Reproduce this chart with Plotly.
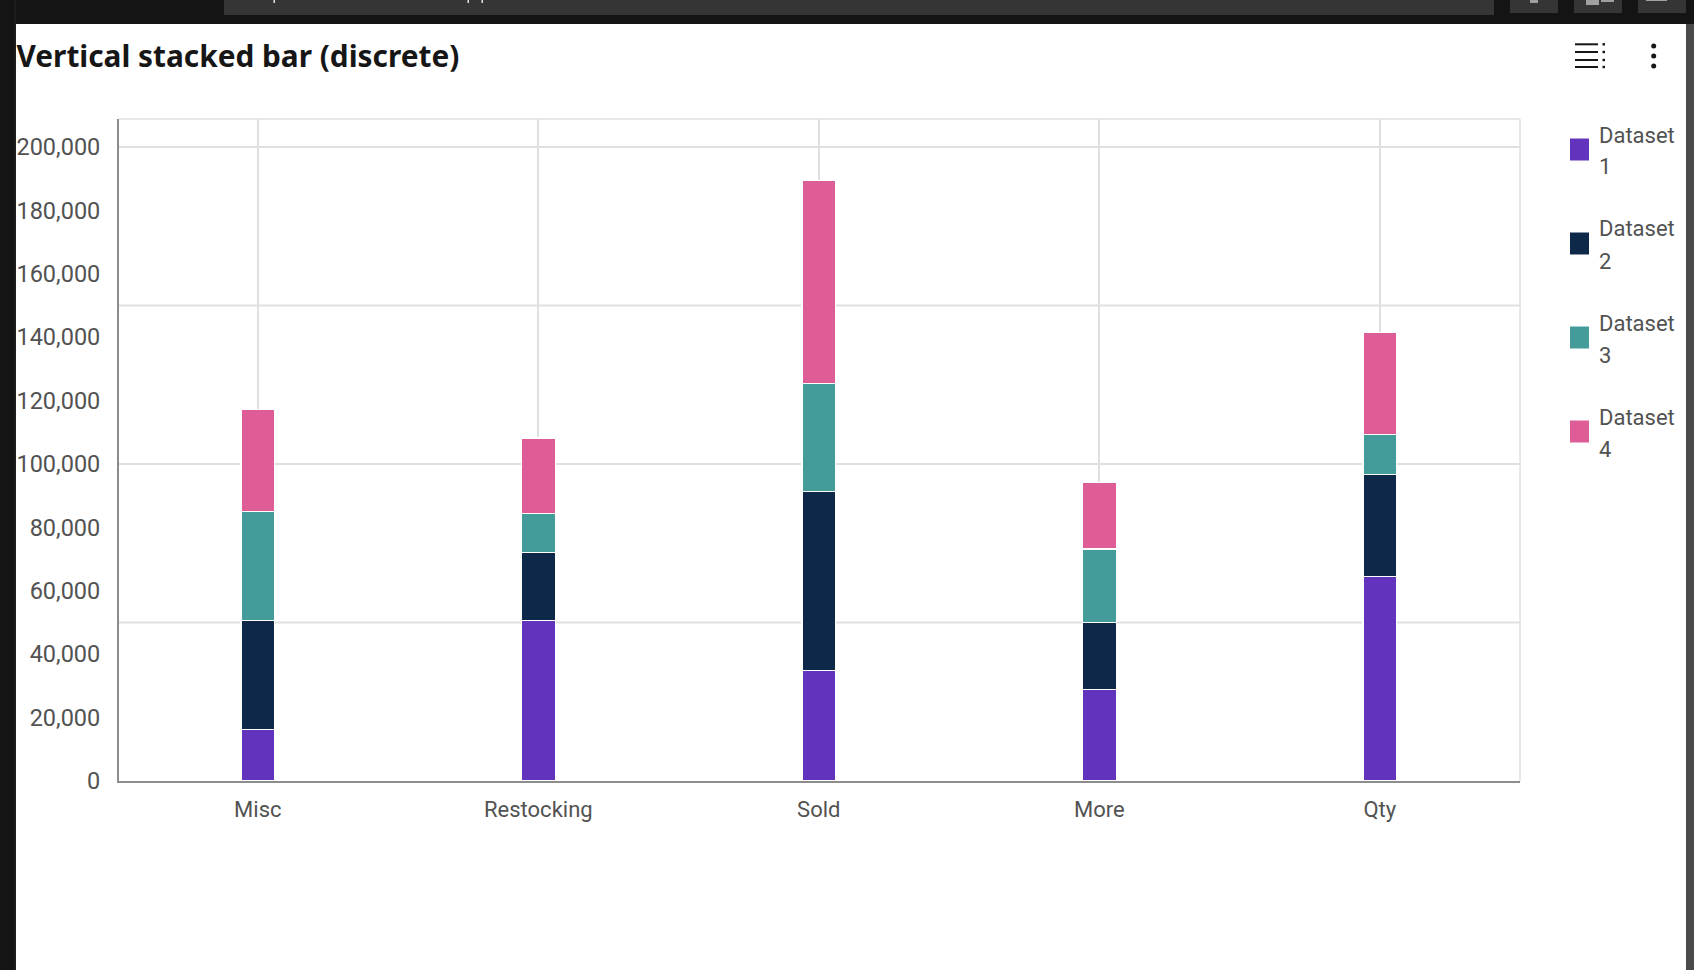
import plotly.graph_objects as go

W, H = 1694, 970
# plot area edges in page pixels
L, R, T, B = 119, 1520, 119, 781

categories = ["Misc", "Restocking", "Sold", "More", "Qty"]
dataset_names = ["Dataset 1", "Dataset 2", "Dataset 3", "Dataset 4"]
dataset_1 = [16300, 50700, 34900, 28800, 64500]
dataset_2 = [34400, 21300, 56300, 21100, 32300]
dataset_3 = [34400, 12400, 34200, 23300, 12500]
dataset_4 = [32000, 23800, 64000, 20900, 32100]
colors = ["#6233BC", "#0E2849", "#449C9A", "#DF5D96"]
y_ticks = [0, 20000, 40000, 60000, 80000, 100000, 120000, 140000, 160000, 180000, 200000]
grid_lines = [50000, 100000, 150000, 200000]
y_max = 208800


def px(x):
    return (x - L) / (R - L)


def py(y):
    return (B - y) / (B - T)


def rect(x0, y0, x1, y1, color, kind="rect"):
    return dict(type=kind, xref="paper", yref="paper", x0=px(x0), x1=px(x1),
                y0=py(y1), y1=py(y0), fillcolor=color, line_width=0, layer="above")


fig = go.Figure()
series = [dataset_1, dataset_2, dataset_3, dataset_4]
for name, values, color in zip(dataset_names, series, colors):
    fig.add_trace(go.Bar(x=categories, y=values, name=name, marker_color=color,
                         marker_line_color="white", marker_line_width=1.2))

shapes = []

# horizontal grid is on a different step than the labels
for g in grid_lines:
    shapes.append(dict(type="line", xref="paper", yref="y", x0=0, x1=1, y0=g, y1=g,
                       line=dict(color="#E0E0E0", width=2), layer="below"))

# browser chrome around the card
shapes += [
    rect(0, 0, W, 24, "#141414"),
    rect(0, 0, 16, H, "#141414"),
    rect(14.5, 0, 15.5, H, "#262626"),
    rect(1686, 24, W, H, "#4A4A4A"),
    rect(224, -5, 1494, 15, "#353535"),
    rect(1510, -5, 1558, 13, "#353535"),
    rect(1574, -5, 1622, 13, "#353535"),
    rect(1638, -5, 1686, 13, "#353535"),
    rect(1530, 0, 1538, 3, "#A0A0A0"),
    rect(1586, 0, 1599, 5, "#A0A0A0"),
    rect(1601, 0, 1614, 2, "#A0A0A0"),
    rect(1646, 0, 1667, 1, "#A0A0A0"),
    rect(273.5, 0, 275, 3, "#E0E0E0"),
    rect(467.5, 0, 469, 3, "#E0E0E0"),
    rect(481.5, 0, 483, 3, "#E0E0E0"),
]

# toolbar icons
for y in [44.3, 52, 60, 67]:
    shapes.append(rect(1575, y - 1, 1598, y + 1, "#161616"))
    shapes.append(rect(1602.5, y - 1.2, 1605, y + 1.2, "#161616"))
for y in [46, 56, 66]:
    shapes.append(rect(1651.2, y - 2.5, 1656.2, y + 2.5, "#161616", kind="circle"))

# legend, wrapped the way the card wraps it
annotations = []
for i, (name, color) in enumerate(zip(dataset_names, colors)):
    y = 149.5 + i * 94
    shapes.append(rect(1570, y - 11, 1589, y + 11, color))
    # two notes because the line spacing is wider than plotly's <br>
    for part, dy in zip(name.split(" "), [-14.5, 17.5]):
        annotations.append(dict(xref="paper", yref="paper", x=px(1597), y=py(y + dy), xanchor="left", yanchor="middle",
                                text=part, showarrow=False, align="left",
                                font=dict(family="Roboto", size=22, color="#525252")))

fig.update_layout(
    width=W, height=H,
    barmode="stack", bargap=0.88,
    showlegend=False,
    paper_bgcolor="white", plot_bgcolor="white",
    margin=dict(l=L, r=W - R, t=T, b=H - B, pad=0),
    font=dict(family="Roboto", size=22, color="#525252"),
    title=dict(text="<b>Vertical stacked bar (discrete)</b>", x=16.5 / W, xanchor="left",
               y=1 - 57 / H, yanchor="middle", font=dict(family="Noto Sans", size=29.8, color="#161616")),
    shapes=shapes, annotations=annotations,
)
fig.update_xaxes(range=[-0.495, 4.5], showgrid=True, gridcolor="#E0E0E0", gridwidth=2, showline=True,
                 linecolor="#8D8D8D", linewidth=2, mirror=False, ticks="", ticklabelstandoff=8, zeroline=False)
fig.update_yaxes(range=[0, y_max], tickmode="array", tickvals=y_ticks, tickformat=",", showgrid=False, showline=True,
                 linecolor="#8D8D8D", linewidth=2, ticks="", ticklabelstandoff=12, zeroline=False,
                 tickfont=dict(size=23.5))

# light frame on top and right
fig.add_shape(type="line", xref="paper", yref="paper", x0=0, x1=1, y0=1, y1=1, line=dict(color="#E0E0E0", width=1.5), layer="below")
fig.add_shape(type="line", xref="paper", yref="paper", x0=1, x1=1, y0=0, y1=1, line=dict(color="#E0E0E0", width=1.5), layer="below")

fig.write_html("out.html", config=dict(displayModeBar=False),
               post_script="document.body.style.margin='0';document.body.style.overflow='hidden';")
